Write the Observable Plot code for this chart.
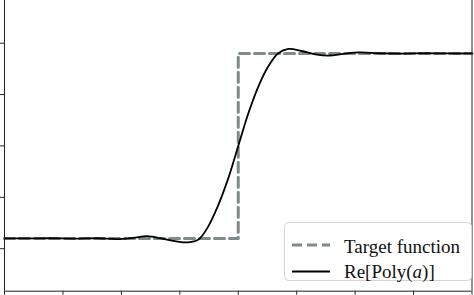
<!DOCTYPE html>
<html>
<head>
<meta charset="utf-8">
<script src="https://cdn.jsdelivr.net/npm/d3@7"></script>
<script src="https://cdn.jsdelivr.net/npm/@observablehq/plot@0.6"></script>
<style>
  html, body { margin: 0; padding: 0; background: #fff; }
  #wrap { position: relative; width: 474px; height: 295px; }
  #legend { position: absolute; left: 284px; top: 222px; }
</style>
</head>
<body>
<div id="wrap"></div>
<script>
// ---- data ----
const xTicks = [-1, -0.75, -0.5, -0.25, 0, 0.25, 0.5, 0.75, 1];
const yTicks = [0, 0.25, 0.5, 0.75, 1];

const targetX = [-1, 0, 0, 1];
const targetY = [0.05, 0.05, 0.95, 0.95];

const polyX = [-1, -0.9, -0.8, -0.7, -0.6, -0.52, -0.45, -0.39, -0.33, -0.27, -0.215, -0.17, -0.13, -0.09, -0.045, 0, 0.045, 0.09, 0.13, 0.17, 0.215, 0.27, 0.33, 0.39, 0.45, 0.52, 0.6, 0.7, 0.8, 0.9, 1];
const polyY = [0.05, 0.05, 0.051, 0.049, 0.051, 0.047, 0.053, 0.061, 0.05, 0.037, 0.031, 0.045, 0.105, 0.2, 0.335, 0.5, 0.665, 0.8, 0.89, 0.95, 0.972, 0.962, 0.946, 0.94, 0.948, 0.955, 0.951, 0.949, 0.951, 0.95, 0.95];

const legendLabels = ["Target function", "Re[Poly(", "a", ")]"];

const target = targetX.map((x, i) => ({x, y: targetY[i]}));
const poly = polyX.map((x, i) => ({x, y: polyY[i]}));

const targetColor = "#7f8b8b";
const yMin = -0.2067;

const chart = Plot.plot({
  width: 474,
  height: 295,
  marginLeft: 4,
  marginRight: 2.5,
  marginTop: 0,
  marginBottom: 4.3,
  style: {background: "#fff", color: "#222"},
  x: {domain: [-1, 1], label: null},
  y: {domain: [yMin, 1.2077], label: null},
  marks: [
    Plot.line(target, {x: "x", y: "y", stroke: targetColor, strokeWidth: 3, strokeDasharray: "10,5"}),
    Plot.line(poly, {x: "x", y: "y", stroke: "#000", strokeWidth: 1.8, curve: "catmull-rom"}),
    Plot.axisX(xTicks, {tickSize: 4, tickFormat: () => "", label: null, stroke: "#222"}),
    Plot.axisY(yTicks, {tickSize: 4, tickFormat: () => "", label: null, stroke: "#222"}),
    Plot.ruleX([-1, 1], {stroke: "#222"}),
    Plot.ruleY([yMin], {stroke: "#222"})
  ]
});

const wrap = document.getElementById("wrap");
wrap.appendChild(chart);

// legend overlay
const ns = "http://www.w3.org/2000/svg";
const lg = document.createElementNS(ns, "svg");
lg.setAttribute("id", "legend");
lg.setAttribute("width", 189);
lg.setAttribute("height", 61);
lg.innerHTML = `
  <rect x="0.5" y="0.5" width="187" height="58" rx="4" ry="4" fill="rgba(255,255,255,0.85)" stroke="#d4d4d4" stroke-width="1"/>
  <line x1="8" x2="46" y1="23" y2="23" stroke="${targetColor}" stroke-width="3" stroke-dasharray="10,5"/>
  <line x1="8" x2="46" y1="49.5" y2="49.5" stroke="#000" stroke-width="1.8"/>
  <text x="60" y="30.5" font-family="'Liberation Serif', 'DejaVu Serif', serif" font-size="19" fill="#111">${legendLabels[0]}</text>
  <text x="60" y="56" font-family="'Liberation Serif', 'DejaVu Serif', serif" font-size="19" fill="#111">${legendLabels[1]}<tspan font-style="italic">${legendLabels[2]}</tspan>${legendLabels[3]}</text>
`;
wrap.appendChild(lg);
</script>
</body>
</html>
